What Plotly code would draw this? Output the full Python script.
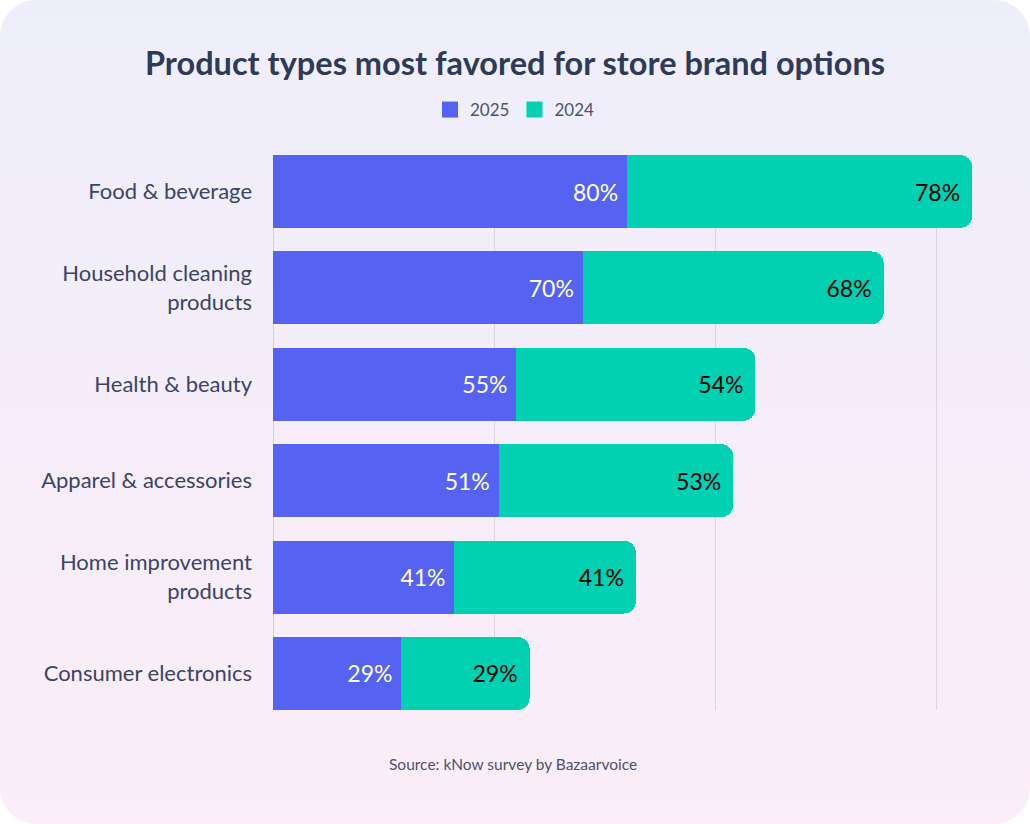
import base64
import plotly.graph_objects as go

categories = ["Food & beverage", "Household cleaning<br>products", "Health & beauty",
              "Apparel & accessories", "Home improvement<br>products", "Consumer electronics"]
values_2025 = [80, 70, 55, 51, 41, 29]
values_2024 = [78, 68, 54, 53, 41, 29]

W, H = 1030, 824
L, R, T, B = 273, 49, 155, 114
pw, ph = W - L - R, H - T - B

BLUE = "#5562F2"
TEAL = "#00D1B3"
FONT = "Lato"

def px_to_paper_x(px):
    return (px - L) / pw

def px_to_paper_y(py):
    return (H - B - py) / ph

fig = go.Figure()
fig.add_trace(go.Bar(
    y=categories, x=values_2025, orientation="h", name="2025", showlegend=False,
    marker=dict(color=BLUE, line=dict(width=0), cornerradius=12),
    text=[f"{v}%\u00a0" for v in values_2025], textposition="inside",
    insidetextanchor="end", textangle=0,
    insidetextfont=dict(color="white", size=23, family=FONT),
    hoverinfo="skip",
))
fig.add_trace(go.Bar(
    y=categories, x=values_2024, orientation="h", name="2024", showlegend=False,
    marker=dict(color=TEAL, line=dict(width=0)),
    text=[f"{v}%" for v in values_2024], textposition="inside",
    insidetextanchor="end", textangle=0,
    insidetextfont=dict(color="black", size=23, family=FONT),
    hoverinfo="skip",
))
# legend entries (square swatches)
for name, col in [("2025", BLUE), ("2024", TEAL)]:
    fig.add_trace(go.Scatter(
        x=[None], y=[None], mode="markers", name=name,
        marker=dict(symbol="square", size=16, color=col),
        hoverinfo="skip",
    ))

svg = f'''<svg xmlns="http://www.w3.org/2000/svg" width="{W}" height="{H}" viewBox="0 0 {W} {H}">
<defs><linearGradient id="g" x1="0" y1="0" x2="0" y2="1">
<stop offset="0" stop-color="#EEEEFB"/><stop offset="1" stop-color="#FCEDF8"/></linearGradient></defs>
<rect x="0" y="0" width="{W}" height="{H}" rx="36" ry="36" fill="url(#g)"/></svg>'''
src = "data:image/svg+xml;base64," + base64.b64encode(svg.encode()).decode()

fig.update_layout(
    width=W, height=H,
    margin=dict(l=L, r=R, t=T, b=B),
    paper_bgcolor="white", plot_bgcolor="rgba(0,0,0,0)",
    barmode="stack", bargap=0.243,
    font=dict(family=FONT, color="#3A4466"),
    title=dict(text="<b>Product types most favored for store brand options</b>",
               x=0.5, xref="container", xanchor="center",
               y=1 - 64 / H, yref="container", yanchor="middle",
               font=dict(size=32.5, color="#2E3A59", family=FONT)),
    legend=dict(orientation="h", x=0.5, xref="container", xanchor="center",
                y=1 - 110 / H, yref="container", yanchor="middle",
                font=dict(size=17, color="#4A5270"), traceorder="normal",
                itemwidth=30, itemsizing="trace", bgcolor="rgba(0,0,0,0)"),
    xaxis=dict(range=[0, 160], dtick=50, showticklabels=False, showgrid=True,
               gridcolor="#D9D6E2", gridwidth=1, zeroline=True, zerolinecolor="#D0CEDD",
               zerolinewidth=1, fixedrange=True),
    yaxis=dict(range=[5.379, -0.379], showgrid=False, ticks="", ticklabelstandoff=20,
               tickfont=dict(size=22, color="#3A4466"), fixedrange=True),
    images=[dict(source=src, xref="paper", yref="paper",
                 x=px_to_paper_x(0), y=px_to_paper_y(0),
                 sizex=W / pw, sizey=H / ph, xanchor="left", yanchor="top",
                 sizing="stretch", layer="below")],
    annotations=[dict(text="Source: kNow survey by Bazaarvoice", xref="paper", yref="paper",
                      x=px_to_paper_x(513), y=px_to_paper_y(764), xanchor="center",
                      yanchor="middle", showarrow=False,
                      font=dict(size=15.5, color="#4A5270", family=FONT))],
)

fig.write_html("out.html")
